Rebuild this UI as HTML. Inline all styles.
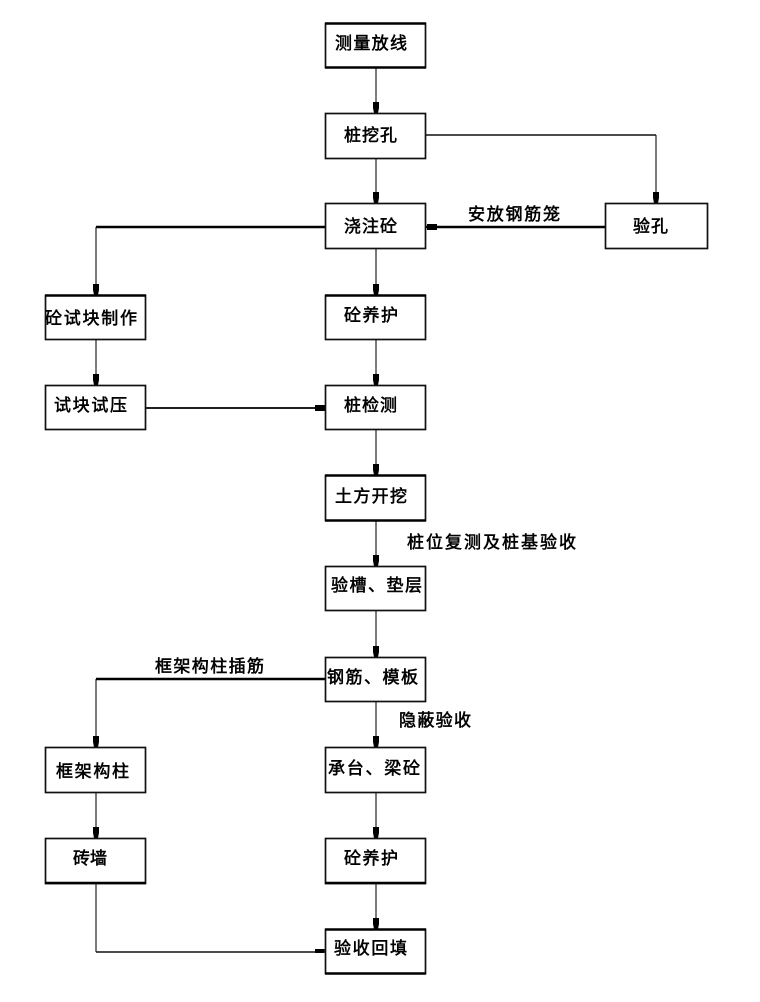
<!DOCTYPE html>
<html><head><meta charset="utf-8"><style>
html,body{margin:0;padding:0;background:#fff}
svg{display:block}
text{font-family:"Liberation Sans","Noto Sans CJK SC",sans-serif;font-size:17px;fill:#000;stroke:#000;stroke-width:.55}
.b{fill:#fff;stroke:#111;stroke-width:1.7}
.t{fill:none;stroke:#333;stroke-width:1.3}
.h{fill:none;stroke:#111;stroke-width:1.4}
.k{fill:none;stroke:#000;stroke-width:2.4}
.m{fill:none;stroke:#000;stroke-width:1.8}
.e{fill:none;stroke:#000;stroke-width:2.4}
.a{fill:#000;stroke:none}
</style></head><body>
<svg width="760" height="1002" viewBox="0 0 760 1002" xmlns="http://www.w3.org/2000/svg">
<rect width="760" height="1002" fill="#fff"/>
<path class="t" d="M376 68V113M376 159V203M376 249V295M376 340V385M376 430V475M376 521V566M376 611V657M376 701V747M376 793V838M376 883V929"/>
<path class="t" d="M656 135V203M96 227V295M96 340V385M96 679V747M96 793V838M96 883V952"/>
<path class="h" d="M426 135H656M96 952H325"/>
<path class="k" d="M325 227H96M605 227H426M325 679H96"/>
<path class="m" d="M146 408H325"/>
<g class="a">
<path d="M373 102h6v6l-1 5h-4l-1-5zM373 192h6v6l-1 5h-4l-1-5zM373 284h6v6l-1 5h-4l-1-5zM373 374h6v6l-1 5h-4l-1-5zM373 464h6v6l-1 5h-4l-1-5zM373 555h6v6l-1 5h-4l-1-5zM373 646h6v6l-1 5h-4l-1-5zM373 736h6v6l-1 5h-4l-1-5zM373 827h6v6l-1 5h-4l-1-5zM373 918h6v6l-1 5h-4l-1-5z"/>
<path d="M653 192h6v6l-1 5h-4l-1-5zM93 284h6v6l-1 5h-4l-1-5zM93 374h6v6l-1 5h-4l-1-5zM93 736h6v6l-1 5h-4l-1-5zM93 827h6v6l-1 5h-4l-1-5z"/>
<path d="M427 224h10v6h-10zM315 405h10v6h-10zM315 949h10l-1 4h-9z"/>
</g>
<g>
<rect class="b" x="325.500" y="23.500" width="100" height="44"/>
<rect class="b" x="325.500" y="113.500" width="100" height="45"/>
<rect class="b" x="325.500" y="203.500" width="100" height="45"/>
<rect class="b" x="605.500" y="203.500" width="102" height="45"/>
<rect class="b" x="45.500" y="295.500" width="100" height="44"/>
<rect class="b" x="325.500" y="295.500" width="100" height="44"/>
<rect class="b" x="45.500" y="385.500" width="100" height="44"/>
<rect class="b" x="325.500" y="385.500" width="100" height="44"/>
<rect class="b" x="325.500" y="475.500" width="100" height="45"/>
<rect class="b" x="325.500" y="566.500" width="100" height="44"/>
<rect class="b" x="325.500" y="657.500" width="100" height="44"/>
<rect class="b" x="45.500" y="747.500" width="100" height="45"/>
<rect class="b" x="325.500" y="747.500" width="100" height="45"/>
<rect class="b" x="45.500" y="838.500" width="100" height="45"/>
<rect class="b" x="325.500" y="838.500" width="100" height="45"/>
<rect class="b" x="325.500" y="929.500" width="100" height="44"/>
</g>
<path class="e" d="M325 23.500H426M325 67.500H426M45 295.500H146M325 295.500H426M325 475.500H426M325 520.500H426M45 883H146M325 883H426M325 929.500H426M325 973.500H426"/>
<g>
<text x="335" y="49" textLength="72">测量放线</text>
<text x="344" y="141" textLength="53">桩挖孔</text>
<text x="344" y="232" textLength="53">浇注砼</text>
<text x="633" y="232" textLength="35">验孔</text>
<text x="468" y="220" textLength="92">安放钢筋笼</text>
<text x="45" y="324" textLength="92">砼试块制作</text>
<text x="344" y="321" textLength="54">砼养护</text>
<text x="54" y="411" textLength="73">试块试压</text>
<text x="344" y="411" textLength="53">桩检测</text>
<text x="335" y="502" textLength="72">土方开挖</text>
<text x="407" y="548" textLength="169">桩位复测及桩基验收</text>
<text x="331" y="591" textLength="91">验槽、垫层</text>
<text x="327" y="683" textLength="91">钢筋、模板</text>
<text x="399" y="726" textLength="72">隐蔽验收</text>
<text x="155" y="672" textLength="109">框架构柱插筋</text>
<text x="56" y="777" textLength="73">框架构柱</text>
<text x="328" y="774" textLength="92">承台、梁砼</text>
<text x="73" y="864" textLength="34">砖墙</text>
<text x="344" y="864" textLength="54">砼养护</text>
<text x="334" y="954" textLength="73">验收回填</text>
</g>
</svg>
</body></html>
